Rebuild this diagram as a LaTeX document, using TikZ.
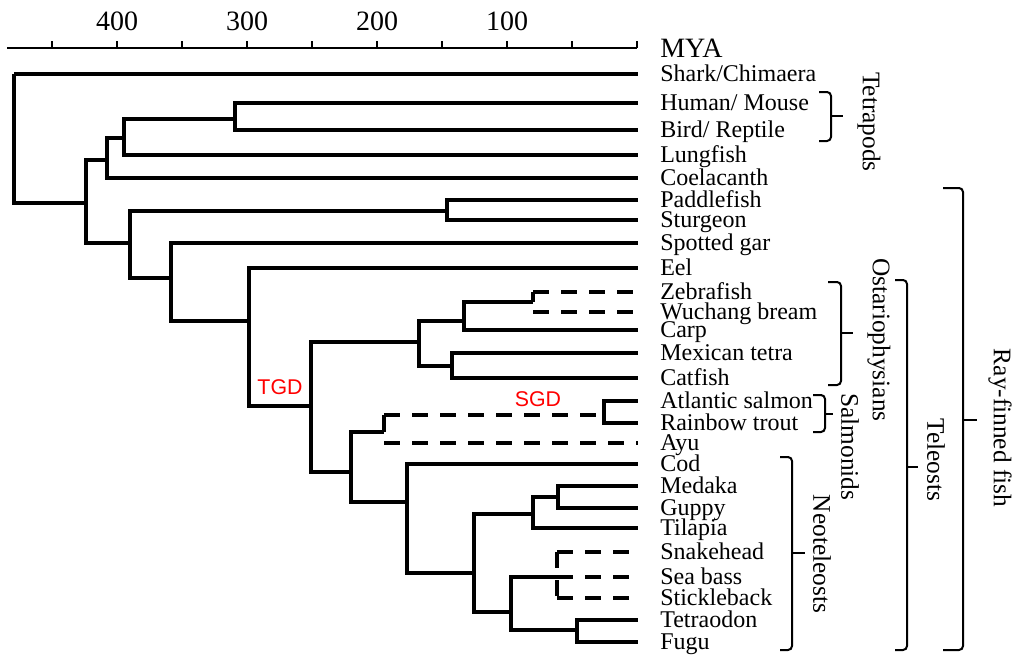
\documentclass[tikz,border=0pt]{standalone}
\usepackage{fontspec}
\setmainfont{Liberation Serif}
\newfontfamily\dupfont{Liberation Sans}

\tikzset{
  branch/.style={line width=2.5pt},
  lost/.style={line width=2.5pt, dash pattern=on 12pt off 9pt},
  leaf/.style={anchor=base west, inner sep=0pt, xshift=16.5pt, yshift=-5.5pt, font=\fontsize{18}{20}\selectfont},
  clade/.style={rotate=-90, inner sep=0pt, font=\fontsize{19}{22}\selectfont},
  brk/.style={line width=1.5pt, rounded corners=3pt},
  dup/.style={text=red, inner sep=0pt, font=\dupfont\fontsize{16}{18}\selectfont},
  axlab/.style={anchor=base, inner sep=0pt, font=\fontsize{21}{24}\selectfont}
}

\begin{document}
\begin{tikzpicture}[x=0.75pt, y=-0.75pt]
\useasboundingbox (0,0) rectangle (1024,661);
% time axis
\draw [line width=2pt] (7,48) -- (637,48);
\foreach \k in {0,...,9} \draw [line width=2pt] (637-65*\k,48) -- (637-65*\k,41);
\node[axlab] (t400) at (117,30) {400};
\node[axlab] (t300) at (247,30) {300};
\node[axlab] (t200) at (377,30) {200};
\node[axlab] (t100) at (507,30) {100};
\node[axlab, anchor=base west] (mya) at (660,57) {MYA};

% leaves
\coordinate (shark) at (638,74);
\coordinate (human) at (638,103);
\coordinate (bird) at (638,130);
\coordinate (lungfish) at (638,155);
\coordinate (coela) at (638,178);
\coordinate (paddle) at (638,200);
\coordinate (sturgeon) at (638,220);
\coordinate (gar) at (638,243);
\coordinate (eel) at (638,268);
\coordinate (zebra) at (638,292);
\coordinate (wuchang) at (638,312);
\coordinate (carp) at (638,330);
\coordinate (mexican) at (638,353);
\coordinate (catfish) at (638,378);
\coordinate (salmon) at (638,401);
\coordinate (trout) at (638,423);
\coordinate (ayu) at (638,443);
\coordinate (cod) at (638,464);
\coordinate (medaka) at (638,486);
\coordinate (guppy) at (638,508);
\coordinate (tilapia) at (638,528);
\coordinate (snakehead) at (638,552);
\coordinate (seabass) at (638,577);
\coordinate (stickle) at (638,598);
\coordinate (tetraodon) at (638,620);
\coordinate (fugu) at (638,642);

\node[leaf] (shark-l) at (shark) {Shark/Chimaera};
\node[leaf] (human-l) at (human) {Human/ Mouse};
\node[leaf] (bird-l) at (bird) {Bird/ Reptile};
\node[leaf] (lungfish-l) at (lungfish) {Lungfish};
\node[leaf] (coela-l) at (coela) {Coelacanth};
\node[leaf] (paddle-l) at (paddle) {Paddlefish};
\node[leaf] (sturgeon-l) at (sturgeon) {Sturgeon};
\node[leaf] (gar-l) at (gar) {Spotted gar};
\node[leaf] (eel-l) at (eel) {Eel};
\node[leaf] (zebra-l) at (zebra) {Zebrafish};
\node[leaf] (wuchang-l) at (wuchang) {Wuchang bream};
\node[leaf] (carp-l) at (carp) {Carp};
\node[leaf] (mexican-l) at (mexican) {Mexican tetra};
\node[leaf] (catfish-l) at (catfish) {Catfish};
\node[leaf] (salmon-l) at (salmon) {Atlantic salmon};
\node[leaf] (trout-l) at (trout) {Rainbow trout};
\node[leaf] (ayu-l) at (ayu) {Ayu};
\node[leaf] (cod-l) at (cod) {Cod};
\node[leaf] (medaka-l) at (medaka) {Medaka};
\node[leaf] (guppy-l) at (guppy) {Guppy};
\node[leaf] (tilapia-l) at (tilapia) {Tilapia};
\node[leaf] (snakehead-l) at (snakehead) {Snakehead};
\node[leaf] (seabass-l) at (seabass) {Sea bass};
\node[leaf] (stickle-l) at (stickle) {Stickleback};
\node[leaf] (tetraodon-l) at (tetraodon) {Tetraodon};
\node[leaf] (fugu-l) at (fugu) {Fugu};

% inner nodes
\coordinate (root) at (14,74);
\coordinate (osteich) at (86,203);
\coordinate (sarco) at (107,160);
\coordinate (rhipid) at (124,138);
\coordinate (tetrapod) at (235,119);
\coordinate (actino) at (130,243);
\coordinate (chondro) at (447,211);
\coordinate (neopt) at (171,278);
\coordinate (teleo) at (249,321);
\coordinate (clupeo) at (311,406);
\coordinate (ostario) at (419,342);
\coordinate (cyprini) at (464,321);
\coordinate (danio) at (533,302);
\coordinate (siluri) at (452,366);
\coordinate (euteleo) at (351,472);
\coordinate (salmoni) at (384,432);
\coordinate (salmo) at (604,415);
\coordinate (acanth) at (407,502);
\coordinate (percomorph) at (474,573);
\coordinate (ovalent) at (533,514);
\coordinate (cyprinodont) at (558,497);
\coordinate (eupercaria) at (511,612);
\coordinate (perci) at (557,577);
\coordinate (tetraodonti) at (577,630);

% branches
\draw[branch] (root) |- (shark);
\draw[branch] (root) |- (osteich);
\draw[branch] (osteich) |- (sarco);
\draw[branch] (osteich) |- (actino);
\draw[branch] (sarco) |- (rhipid);
\draw[branch] (sarco) |- (coela);
\draw[branch] (rhipid) |- (tetrapod);
\draw[branch] (rhipid) |- (lungfish);
\draw[branch] (tetrapod) |- (human);
\draw[branch] (tetrapod) |- (bird);
\draw[branch] (actino) |- (chondro);
\draw[branch] (actino) |- (neopt);
\draw[branch] (chondro) |- (paddle);
\draw[branch] (chondro) |- (sturgeon);
\draw[branch] (neopt) |- (gar);
\draw[branch] (neopt) |- (teleo);
\draw[branch] (teleo) |- (eel);
\draw[branch] (teleo) |- (clupeo);
\draw[branch] (clupeo) |- (ostario);
\draw[branch] (clupeo) |- (euteleo);
\draw[branch] (ostario) |- (cyprini);
\draw[branch] (ostario) |- (siluri);
\draw[branch] (cyprini) |- (danio);
\draw[branch] (cyprini) |- (carp);
\draw[branch] (danio) -- (danio |- zebra);
\draw[lost] (danio |- zebra) -- (zebra);
\draw[lost] (danio |- wuchang) -- (wuchang);
\draw[branch] (siluri) |- (mexican);
\draw[branch] (siluri) |- (catfish);
\draw[branch] (euteleo) |- (salmoni);
\draw[branch] (euteleo) |- (acanth);
\draw[branch] (salmoni) -- (salmoni |- salmo);
\draw[lost] (salmoni |- salmo) -- (salmo);
\draw[lost] (salmoni |- ayu) -- (ayu);
\draw[branch] (salmo) |- (salmon);
\draw[branch] (salmo) |- (trout);
\draw[branch] (acanth) |- (cod);
\draw[branch] (acanth) |- (percomorph);
\draw[branch] (percomorph) |- (ovalent);
\draw[branch] (percomorph) |- (eupercaria);
\draw[branch] (ovalent) |- (cyprinodont);
\draw[branch] (ovalent) |- (tilapia);
\draw[branch] (cyprinodont) |- (medaka);
\draw[branch] (cyprinodont) |- (guppy);
\draw[branch] (eupercaria) |- (perci);
\draw[branch] (eupercaria) |- (tetraodonti);
\draw[lost] (perci |- snakehead) -- (perci |- stickle);
\draw[lost] (perci |- snakehead) -- (snakehead);
\draw[lost] (perci) -- (seabass);
\draw[lost] (perci |- stickle) -- (stickle);
\draw[branch] (tetraodonti) |- (tetraodon);
\draw[branch] (tetraodonti) |- (fugu);

% duplications
\node[dup] (tgd) at (280,387) {TGD};
\node[dup] (sgd) at (538,399) {SGD};

% clade brackets
\draw[brk] (819,92) -- (831,92) -- (831,141) -- (819,141);
\draw[brk] (831,116) -- (843,116);
\node[clade] (tetrapods) at (869,122) {Tetrapods};
\draw[brk] (828,282) -- (841,282) -- (841,385) -- (828,385);
\draw[brk] (841,333) -- (853,333);
\node[clade] (ostariophys) at (879,340) {Ostariophysians};
\draw[brk] (813,395) -- (825,395) -- (825,432) -- (813,432);
\draw[brk] (825,414) -- (833,414);
\node[clade] (salmonids) at (850,447) {Salmonids};
\draw[brk] (780,457) -- (792,457) -- (792,650) -- (780,650);
\draw[brk] (792,553) -- (805,553);
\node[clade] (neoteleosts) at (822,554) {Neoteleosts};
\draw[brk] (895,280) -- (907,280) -- (907,650) -- (895,650);
\draw[brk] (907,467) -- (918,467);
\node[clade] (teleosts) at (936,460) {Teleosts};
\draw[brk] (943,188) -- (963,188) -- (963,650) -- (943,650);
\draw[brk] (963,420) -- (977,420);
\node[clade] (rayfinned) at (1000,428) {Ray-finned fish};
\end{tikzpicture}
\end{document}
